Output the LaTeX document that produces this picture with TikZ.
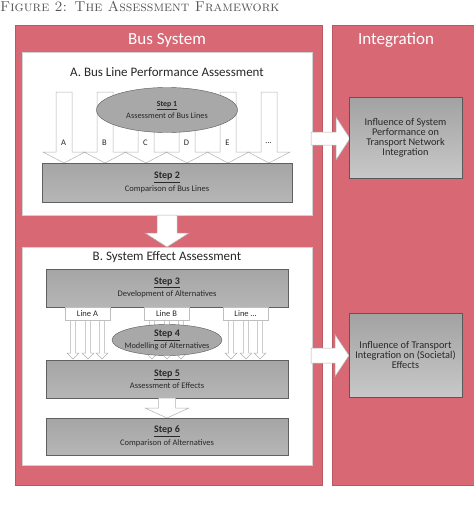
\documentclass[tikz,border=0pt]{standalone}
\usepackage{fontspec}
\newfontfamily\calibri{Carlito}
\usetikzlibrary{positioning,shapes.geometric,shadows}

\definecolor{panelred}{RGB}{216,104,116}
\definecolor{textgray}{RGB}{40,40,40}
\definecolor{capgray}{RGB}{85,85,85}

% hollow block arrows (picture units are pixels, y pointing down)
% x, top, tip, half shaft, half head, head length
\newcommand{\hollowdown}[6]{%
  \draw[hollow] (#1-#4,#2) -- (#1+#4,#2) -- (#1+#4,#3-#6) -- (#1+#5,#3-#6)
    -- (#1,#3) -- (#1-#5,#3-#6) -- (#1-#4,#3-#6) -- cycle;}
% y, start, tip, half shaft, half head, head length
\newcommand{\hollowright}[6]{%
  \draw[hollow] (#2,#1-#4) -- (#3-#6,#1-#4) -- (#3-#6,#1-#5) -- (#3,#1)
    -- (#3-#6,#1+#5) -- (#3-#6,#1+#4) -- (#2,#1+#4) -- cycle;}
\newcommand{\steplabel}[2][10]{{\fontsize{#1}{12.5}\selectfont\bfseries\underline{Step #2}}}

\begin{document}
\begin{tikzpicture}[x=1pt,y=-1pt,
  panel/.style={rectangle,fill=panelred,draw=panelred!85!black,line width=0.4pt,inner sep=0pt},
  paneltitle/.style={text=white,font=\calibri\fontsize{17}{17}\selectfont},
  whitebox/.style={rectangle,fill=white,draw=gray!35,inner sep=0pt,
    drop shadow={shadow xshift=1pt,shadow yshift=-1pt,opacity=0.3}},
  boxtitle/.style={text=textgray,font=\calibri\fontsize{13}{13}\selectfont},
  stepbox/.style={rectangle,draw=gray!75!black,line width=0.4pt,
    top color={rgb,255:red,165;green,165;blue,165},bottom color={rgb,255:red,182;green,182;blue,182},
    text=textgray,align=center,inner sep=0pt,font=\calibri\fontsize{8.5}{12.5}\selectfont},
  stepoval/.style={ellipse,draw=gray!70!black,line width=0.4pt,fill={rgb,255:red,168;green,168;blue,168},
    text=textgray,align=center,inner xsep=-14pt,inner ysep=-4pt,font=\calibri\fontsize{8.3}{11.5}\selectfont},
  infbox/.style={rectangle,draw=gray!70!black,line width=0.4pt,
    top color={rgb,255:red,162;green,162;blue,162},bottom color={rgb,255:red,200;green,200;blue,200},
    text=textgray,align=center,inner sep=0pt,font=\calibri\fontsize{10.3}{10}\selectfont},
  linebox/.style={rectangle,fill=white,draw=gray!50,inner sep=0pt,
    minimum width=45pt,minimum height=13pt,text=textgray,font=\calibri\fontsize{8.5}{8.5}\selectfont},
  linelbl/.style={text=textgray,font=\calibri\fontsize{8.5}{8.5}\selectfont},
  hollow/.style={fill=white,draw=gray!60,line width=0.5pt,line join=miter}]

\useasboundingbox (0,0) rectangle (474,509);

% caption
\node[anchor=base west,inner sep=0pt,text=capgray] (caption) at (0,11)
  {\fontsize{14.3}{14.3}\selectfont\textsc{Figure 2: The Assessment Framework}};

% the two panels
\node[panel,minimum width=307pt,minimum height=460pt] (bus) at (168.5,255) {};
\node[panel,minimum width=142pt,minimum height=460pt] (integ) at (403,255) {};
\node[paneltitle] (bustitle) at (167,40) {Bus System};
\node[paneltitle] (integtitle) at (396,40) {Integration};

% A. bus line performance assessment
\node[whitebox,minimum width=290pt,minimum height=163pt] (boxA) at (167,133.5) {};
\node[boxtitle] (titleA) at (167,72) {A. Bus Line Performance Assessment};

\foreach \lbl [count=\i from 0] in {A,B,C,D,E,\dots} {
  \hollowdown{64+41*\i}{92}{163}{8}{21}{11}
  \node[linelbl] (lbl\i) at (63.5+41*\i,143) {\lbl};
}
\node[stepoval,minimum width=141pt,minimum height=45pt] (step1) at (167,110)
  {\steplabel[7.8]{1}\\Assessment of Bus Lines};
\node[stepbox,minimum width=250pt,minimum height=39pt] (step2) at (167,182.5)
  {\steplabel{2}\\Comparison of Bus Lines};

% from A to B
\hollowdown{167}{215}{247}{10}{22}{14}

% B. system effect assessment
\node[whitebox,minimum width=290pt,minimum height=218pt] (boxB) at (167,356) {};
\node[boxtitle] (titleB) at (167,257) {B. System Effect Assessment};
\node[stepbox,minimum width=242pt,minimum height=38pt] (step3) at (167,288)
  {\steplabel{3}\\Development of Alternatives};

\foreach \x in {73,88,102,152,167,181,231,246,260} {
  \hollowdown{\x}{320}{359}{2.5}{6}{6}
}

\node[linebox] (lineA) at (87.5,313.5) {Line A};
\node[linebox] (lineB) at (166.5,313.5) {Line B};
\node[linebox] (lineN) at (245.5,313.5) {Line \dots};
\node[stepoval,minimum width=110pt,minimum height=31pt] (step4) at (167,340)
  {\steplabel[10]{4}\\Modelling of Alternatives};
\node[stepbox,minimum width=242pt,minimum height=38pt] (step5) at (167,379)
  {\steplabel{5}\\Assessment of Effects};
\hollowdown{167}{398}{418}{8.5}{22}{10}
\node[stepbox,minimum width=242pt,minimum height=37pt] (step6) at (167,436.5)
  {\steplabel{6}\\Comparison of Alternatives};

% integration
\hollowright{138.5}{311}{350}{6.5}{21.5}{14}
\node[infbox,minimum width=113pt,minimum height=81pt] (infl1) at (405.5,137.5)
  {Influence of System\\Performance on\\Transport Network\\Integration};
\hollowright{355.5}{311}{349}{7.5}{21}{14}
\node[infbox,minimum width=113pt,minimum height=84pt] (infl2) at (405.5,355)
  {Influence of Transport\\Integration on (Societal)\\Effects};

\end{tikzpicture}
\end{document}
